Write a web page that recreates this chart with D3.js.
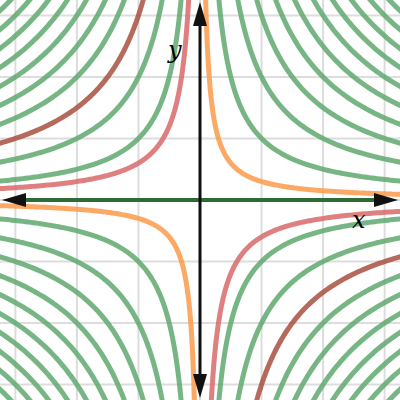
<!DOCTYPE html>
<html><head><script src="https://cdn.jsdelivr.net/npm/d3@7"></script>
<style>body{margin:0}svg{display:block}</style></head><body>
<svg id="c" width="400" height="400"></svg>
<script>
const greenPos = [1,2,3,4,5,6,7,8,9,10,11];
const greenNeg = [-1,-2,-4,-5,-6,-7,-8,-9,-10,-11];
const orangeC = [0.3];
const pinkC = [-0.6];
const brownC = [-3];
const gridTicks = [-3,-2,-1,0,1,2,3];
const svg = d3.select("#c");
const x = d3.scaleLinear().domain([-3.25,3.25]).range([0,400]);
const y = d3.scaleLinear().domain([-3.25,3.25]).range([400,0]);
svg.append("rect").attr("width",400).attr("height",400).attr("fill","#fff");
const g = svg.append("g");
gridTicks.forEach(t=>{
  g.append("line").attr("x1",x(t)).attr("x2",x(t)).attr("y1",0).attr("y2",400).attr("stroke","#ddd").attr("stroke-width",2);
  g.append("line").attr("y1",y(t)).attr("y2",y(t)).attr("x1",0).attr("x2",400).attr("stroke","#ddd").attr("stroke-width",2);
});
const line = d3.line().x(d=>x(d[0])).y(d=>y(d[1]));
function branch(c, sign){
  const pts=[];
  for(let i=0;i<=400;i++){
    const ax = 0.01*Math.pow(400,i/400); // 0.01..4
    const xv = sign*ax; const yv = c/xv;
    if(Math.abs(yv)<5) pts.push([xv,yv]);
  }
  return pts;
}
function draw(cs,color){
  cs.forEach(c=>[1,-1].forEach(s=>{
    g.append("path").attr("d",line(branch(c,s))).attr("fill","none")
     .attr("stroke",color).attr("stroke-width",5).attr("stroke-opacity",0.85);
  }));
}
draw(greenPos,"#5fa96e");
draw(greenNeg,"#5fa96e");
draw(brownC,"#a8503f");
draw(pinkC,"#d86a6a");
draw(orangeC,"#fa9a4a");
// axes
g.append("line").attr("x1",x(-3.1)).attr("x2",x(3.1)).attr("y1",y(0)).attr("y2",y(0)).attr("stroke","#2e6b35").attr("stroke-width",4);
g.append("line").attr("x1",x(0)).attr("x2",x(0)).attr("y1",y(3.1)).attr("y2",y(-3.1)).attr("stroke","#111").attr("stroke-width",3);
const X0=x(0),Y0=y(0);
g.append("path").attr("d",`M${X0},2 L${X0-7},26 L${X0+7},26 Z`).attr("fill","#111");
g.append("path").attr("d",`M${X0},398 L${X0-7},374 L${X0+7},374 Z`).attr("fill","#111");
g.append("path").attr("d",`M2,${Y0} L26,${Y0-7} L26,${Y0+7} Z`).attr("fill","#111");
g.append("path").attr("d",`M398,${Y0} L374,${Y0-7} L374,${Y0+7} Z`).attr("fill","#111");
svg.append("text").attr("x",168).attr("y",58).text("y").attr("font-family","DejaVu Serif").attr("font-style","italic").attr("font-size",24);
svg.append("text").attr("x",352).attr("y",228).text("x").attr("font-family","DejaVu Serif").attr("font-style","italic").attr("font-size",24);
</script></body></html>
